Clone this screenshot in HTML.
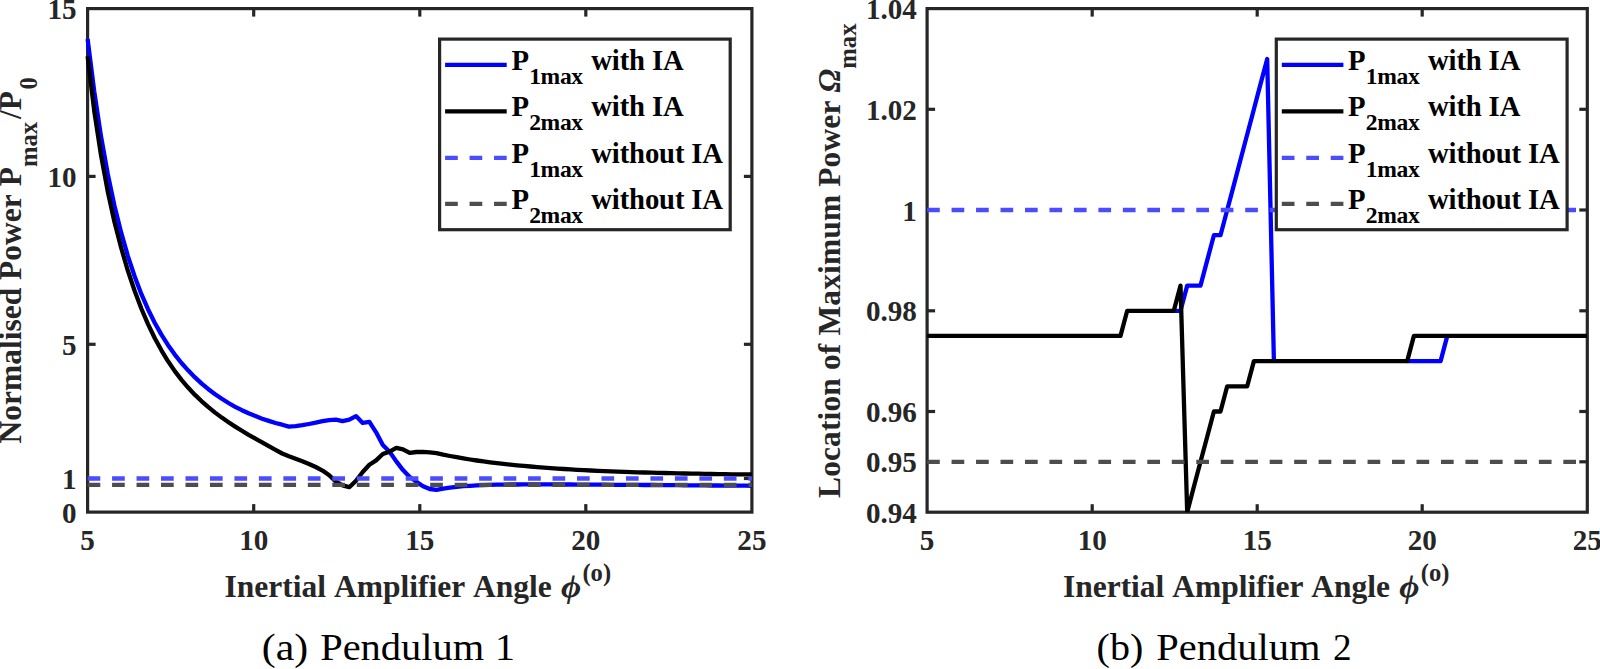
<!DOCTYPE html>
<html lang="en"><head><meta charset="utf-8"><title>Pendulum power plots</title>
<style>html,body{margin:0;padding:0;background:#fff}svg{display:block}text{font-kerning:none;white-space:pre}</style></head>
<body>
<svg width="1600" height="669" viewBox="0 0 1600 669">
<rect width="1600" height="669" fill="#fff"/>
<defs>
<clipPath id="ca"><rect x="84.6" y="8.6" width="667.3" height="503.5"/></clipPath>
<clipPath id="cb"><rect x="927.1" y="8.6" width="660.2" height="503.6"/></clipPath>
</defs>
<g stroke="#262626" stroke-width="3.2" fill="none">
<rect x="87.6" y="8.6" width="664.3" height="503.5"/>
<line x1="253.7" x2="253.7" y1="512.1" y2="504.1"/><line x1="253.7" x2="253.7" y1="8.6" y2="16.6"/>
<line x1="419.8" x2="419.8" y1="512.1" y2="504.1"/><line x1="419.8" x2="419.8" y1="8.6" y2="16.6"/>
<line x1="585.8" x2="585.8" y1="512.1" y2="504.1"/><line x1="585.8" x2="585.8" y1="8.6" y2="16.6"/>
<line x1="87.6" x2="95.6" y1="478.5" y2="478.5"/><line x1="751.9" x2="743.9" y1="478.5" y2="478.5"/>
<line x1="87.6" x2="95.6" y1="344.3" y2="344.3"/><line x1="751.9" x2="743.9" y1="344.3" y2="344.3"/>
<line x1="87.6" x2="95.6" y1="176.4" y2="176.4"/><line x1="751.9" x2="743.9" y1="176.4" y2="176.4"/>
</g>
<g font-family="'Liberation Serif', serif" font-weight="bold" font-size="29.1" fill="#262626">
<text x="87.6" y="549.9" text-anchor="middle">5</text>
<text x="253.7" y="549.9" text-anchor="middle">10</text>
<text x="419.8" y="549.9" text-anchor="middle">15</text>
<text x="585.8" y="549.9" text-anchor="middle">20</text>
<text x="751.9" y="549.9" text-anchor="middle">25</text>
<text x="76.6" y="522.7" text-anchor="end">0</text>
<text x="76.6" y="489.1" text-anchor="end">1</text>
<text x="76.6" y="354.9" text-anchor="end">5</text>
<text x="76.6" y="187.0" text-anchor="end">10</text>
<text x="76.6" y="19.2" text-anchor="end">15</text>
</g>
<g stroke="#262626" stroke-width="3.2" fill="none">
<rect x="927.1" y="8.6" width="660.2" height="503.6"/>
<line x1="1092.2" x2="1092.2" y1="512.2" y2="504.20000000000005"/><line x1="1092.2" x2="1092.2" y1="8.6" y2="16.6"/>
<line x1="1257.2" x2="1257.2" y1="512.2" y2="504.20000000000005"/><line x1="1257.2" x2="1257.2" y1="8.6" y2="16.6"/>
<line x1="1422.2" x2="1422.2" y1="512.2" y2="504.20000000000005"/><line x1="1422.2" x2="1422.2" y1="8.6" y2="16.6"/>
<line x1="927.1" x2="935.1" y1="461.8" y2="461.8"/><line x1="1587.3" x2="1579.3" y1="461.8" y2="461.8"/>
<line x1="927.1" x2="935.1" y1="411.5" y2="411.5"/><line x1="1587.3" x2="1579.3" y1="411.5" y2="411.5"/>
<line x1="927.1" x2="935.1" y1="310.8" y2="310.8"/><line x1="1587.3" x2="1579.3" y1="310.8" y2="310.8"/>
<line x1="927.1" x2="935.1" y1="210.0" y2="210.0"/><line x1="1587.3" x2="1579.3" y1="210.0" y2="210.0"/>
<line x1="927.1" x2="935.1" y1="109.3" y2="109.3"/><line x1="1587.3" x2="1579.3" y1="109.3" y2="109.3"/>
</g>
<g font-family="'Liberation Serif', serif" font-weight="bold" font-size="29.1" fill="#262626">
<text x="927.1" y="549.9" text-anchor="middle">5</text>
<text x="1092.2" y="549.9" text-anchor="middle">10</text>
<text x="1257.2" y="549.9" text-anchor="middle">15</text>
<text x="1422.2" y="549.9" text-anchor="middle">20</text>
<text x="1587.3" y="549.9" text-anchor="middle">25</text>
<text x="916.9" y="522.8" text-anchor="end">0.94</text>
<text x="916.9" y="472.4" text-anchor="end">0.95</text>
<text x="916.9" y="422.1" text-anchor="end">0.96</text>
<text x="916.9" y="321.4" text-anchor="end">0.98</text>
<text x="916.9" y="220.6" text-anchor="end">1</text>
<text x="916.9" y="119.9" text-anchor="end">1.02</text>
<text x="916.9" y="19.2" text-anchor="end">1.04</text>
</g>
<g clip-path="url(#ca)" fill="none" stroke-linejoin="round">
<polyline points="87.6,39.0 94.3,91.7 101.0,136.2 107.7,173.7 114.4,205.5 121.2,232.7 127.9,256.1 134.6,276.3 141.3,293.9 148.0,309.2 154.7,322.7 161.4,334.6 168.1,345.2 174.8,354.6 181.5,363.0 188.3,370.6 195.0,377.4 201.7,383.6 208.4,389.2 215.1,394.2 221.8,398.8 228.5,403.0 235.2,406.8 241.9,410.2 248.6,413.3 255.4,416.1 262.1,418.7 268.8,420.9 275.5,423.0 282.2,424.7 288.9,426.6 295.6,426.2 302.3,425.2 309.0,424.0 315.7,422.7 322.5,421.2 329.2,420.1 335.9,419.6 342.6,421.1 349.3,419.6 356.0,416.1 362.7,422.9 369.4,421.9 376.1,432.3 382.8,444.9 389.6,451.7 396.3,461.4 403.0,470.1 409.7,476.9 416.4,481.9 423.1,486.2 429.8,489.0 436.5,489.8 443.2,488.6 449.9,487.6 456.7,486.9 463.4,486.2 470.1,485.8 476.8,485.4 483.5,485.1 490.2,484.9 496.9,484.7 503.6,484.6 510.3,484.5 517.0,484.5 523.8,484.4 530.5,484.4 537.2,484.4 543.9,484.4 550.6,484.4 557.3,484.5 564.0,484.5 570.7,484.5 577.4,484.6 584.1,484.6 590.9,484.6 597.6,484.7 604.3,484.7 611.0,484.8 617.7,484.8 624.4,484.9 631.1,484.9 637.8,484.9 644.5,485.0 651.2,485.0 658.0,485.1 664.7,485.1 671.4,485.2 678.1,485.2 684.8,485.3 691.5,485.3 698.2,485.4 704.9,485.4 711.6,485.5 718.3,485.5 725.1,485.6 731.8,485.6 738.5,485.7 745.2,485.7 751.9,485.8" stroke="#0000ff" stroke-width="4.3"/>
<polyline points="87.6,56.3 94.3,111.3 101.0,155.1 107.7,191.2 114.4,221.7 121.2,248.0 127.9,270.8 134.6,290.8 141.3,308.5 148.0,324.1 154.7,338.0 161.4,350.3 168.1,361.3 174.8,371.1 181.5,379.9 188.3,387.8 195.0,394.9 201.7,401.3 208.4,407.2 215.1,412.6 221.8,417.6 228.5,422.2 235.2,426.6 241.9,430.8 248.6,434.8 255.4,438.6 262.1,442.4 268.8,446.2 275.5,449.8 282.2,453.5 288.9,456.2 295.6,458.7 302.3,461.3 309.0,464.0 315.7,467.0 322.5,470.6 329.2,475.3 335.9,481.6 342.6,485.4 349.3,487.2 356.0,480.8 362.7,472.0 369.4,464.7 376.1,460.4 382.8,454.0 389.6,451.6 396.3,447.9 403.0,449.3 409.7,452.9 416.4,452.0 423.1,451.8 429.8,452.3 436.5,453.2 443.2,454.7 449.9,456.0 456.7,457.2 463.4,458.4 470.1,459.5 476.8,460.5 483.5,461.4 490.2,462.3 496.9,463.1 503.6,463.9 510.3,464.6 517.0,465.3 523.8,465.9 530.5,466.5 537.2,467.1 543.9,467.6 550.6,468.1 557.3,468.6 564.0,469.0 570.7,469.4 577.4,469.8 584.1,470.1 590.9,470.5 597.6,470.8 604.3,471.1 611.0,471.3 617.7,471.6 624.4,471.9 631.1,472.1 637.8,472.3 644.5,472.5 651.2,472.7 658.0,472.9 664.7,473.0 671.4,473.2 678.1,473.3 684.8,473.5 691.5,473.6 698.2,473.7 704.9,473.9 711.6,474.0 718.3,474.1 725.1,474.2 731.8,474.3 738.5,474.4 745.2,474.4 751.9,474.5" stroke="#000" stroke-width="4.3"/>
<line x1="87.6" x2="751.9" y1="478.5" y2="478.5" stroke="#4c4cff" stroke-width="4.3" stroke-dasharray="12.7 11.77"/>
<line x1="87.6" x2="751.9" y1="484.9" y2="484.9" stroke="#4d4d4d" stroke-width="4.3" stroke-dasharray="12.7 11.77"/>
</g>
<g clip-path="url(#cb)" fill="none" stroke-linejoin="round">
<polyline points="1173.8,310.8 1180.5,310.8 1187.2,285.6 1193.8,285.6 1200.5,285.6 1207.2,260.4 1213.9,235.2 1220.5,235.2 1227.2,210.0 1233.9,184.9 1240.5,159.7 1247.2,134.5 1253.9,109.3 1260.5,84.1 1267.2,59.0 1273.9,361.1" stroke="#0000ff" stroke-width="4.3"/>
<polyline points="1407.2,361.1 1413.9,361.1 1420.6,361.1 1427.3,361.1 1433.9,361.1 1440.6,361.1 1447.3,335.9" stroke="#0000ff" stroke-width="4.3"/>
<polyline points="927.1,335.9 933.8,335.9 940.4,335.9 947.1,335.9 953.8,335.9 960.4,335.9 967.1,335.9 973.8,335.9 980.4,335.9 987.1,335.9 993.8,335.9 1000.5,335.9 1007.1,335.9 1013.8,335.9 1020.5,335.9 1027.1,335.9 1033.8,335.9 1040.5,335.9 1047.1,335.9 1053.8,335.9 1060.5,335.9 1067.1,335.9 1073.8,335.9 1080.5,335.9 1087.1,335.9 1093.8,335.9 1100.5,335.9 1107.2,335.9 1113.8,335.9 1120.5,335.9 1127.2,310.8 1133.8,310.8 1140.5,310.8 1147.2,310.8 1153.8,310.8 1160.5,310.8 1167.2,310.8 1173.8,310.8 1180.5,285.6 1187.2,512.2 1193.8,487.0 1200.5,461.8 1207.2,436.7 1213.9,411.5 1220.5,411.5 1227.2,386.3 1233.9,386.3 1240.5,386.3 1247.2,386.3 1253.9,361.1 1260.5,361.1 1267.2,361.1 1273.9,361.1 1280.5,361.1 1287.2,361.1 1293.9,361.1 1300.5,361.1 1307.2,361.1 1313.9,361.1 1320.6,361.1 1327.2,361.1 1333.9,361.1 1340.6,361.1 1347.2,361.1 1353.9,361.1 1360.6,361.1 1367.2,361.1 1373.9,361.1 1380.6,361.1 1387.2,361.1 1393.9,361.1 1400.6,361.1 1407.2,361.1 1413.9,335.9 1420.6,335.9 1427.3,335.9 1433.9,335.9 1440.6,335.9 1447.3,335.9 1453.9,335.9 1460.6,335.9 1467.3,335.9 1473.9,335.9 1480.6,335.9 1487.3,335.9 1493.9,335.9 1500.6,335.9 1507.3,335.9 1513.9,335.9 1520.6,335.9 1527.3,335.9 1534.0,335.9 1540.6,335.9 1547.3,335.9 1554.0,335.9 1560.6,335.9 1567.3,335.9 1574.0,335.9 1580.6,335.9 1587.3,335.9" stroke="#000" stroke-width="4.3"/>
<line x1="927.1" x2="1587.3" y1="210.0" y2="210.0" stroke="#4c4cff" stroke-width="4.3" stroke-dasharray="12.7 11.77"/>
<line x1="927.1" x2="1587.3" y1="461.8" y2="461.8" stroke="#4d4d4d" stroke-width="4.3" stroke-dasharray="12.7 11.77"/>
</g>
<text x="224.6" y="596.7" font-family="'Liberation Serif', serif" font-weight="bold" font-size="31.5" fill="#262626">Inertial Amplifier Angle</text>
<text x="560.9" y="596.7" font-family="'Liberation Serif', serif" font-weight="bold" font-style="italic" font-size="31.5" fill="#262626" textLength="20.2" lengthAdjust="spacingAndGlyphs">ϕ</text>
<text x="582.4" y="581.4" font-family="'Liberation Serif', serif" font-weight="bold" font-size="24.6" fill="#262626">(o)</text>
<text x="1062.9" y="596.7" font-family="'Liberation Serif', serif" font-weight="bold" font-size="31.5" fill="#262626">Inertial Amplifier Angle</text>
<text x="1399.2" y="596.7" font-family="'Liberation Serif', serif" font-weight="bold" font-style="italic" font-size="31.5" fill="#262626" textLength="20.2" lengthAdjust="spacingAndGlyphs">ϕ</text>
<text x="1420.7" y="581.4" font-family="'Liberation Serif', serif" font-weight="bold" font-size="24.6" fill="#262626">(o)</text>
<text transform="translate(21,443.5) rotate(-90)" font-family="'Liberation Serif', serif" font-weight="bold" font-size="31.5" fill="#262626">Normalised Power P<tspan dy="16" font-size="24.6">max</tspan><tspan dx="3" dy="-16">/P</tspan><tspan dx="1.5" dy="16" font-size="24.6">0</tspan></text>
<text transform="translate(840,498) rotate(-90)" font-family="'Liberation Serif', serif" font-weight="bold" font-size="31.5" fill="#262626" letter-spacing="0.12">Location of Maximum Power <tspan font-style="italic">Ω</tspan><tspan dy="15.5" font-size="24.6">max</tspan></text>
<rect x="439.6" y="39.1" width="290.6" height="190.6" fill="#fff" stroke="#262626" stroke-width="3.2"/>
<line x1="445.1" x2="506.7" y1="64.8" y2="64.8" stroke="#0000ff" stroke-width="4.3"/>
<text x="511.4" y="69.7" font-family="'Liberation Serif', serif" font-weight="bold" font-size="28.7" fill="#000">P<tspan dx="0.2" dy="13.9" font-size="23.6" letter-spacing="-0.35">1max</tspan><tspan dx="1.5" dy="-13.9" letter-spacing="-0.15"> with IA</tspan></text>
<line x1="445.1" x2="506.7" y1="111.4" y2="111.4" stroke="#000" stroke-width="4.3"/>
<text x="511.4" y="116.3" font-family="'Liberation Serif', serif" font-weight="bold" font-size="28.7" fill="#000">P<tspan dx="0.2" dy="13.9" font-size="23.6" letter-spacing="-0.35">2max</tspan><tspan dx="1.5" dy="-13.9" letter-spacing="-0.15"> with IA</tspan></text>
<line x1="445.1" x2="506.7" y1="157.8" y2="157.8" stroke="#4c4cff" stroke-width="4.3" stroke-dasharray="12.7 11.77"/>
<text x="511.4" y="162.7" font-family="'Liberation Serif', serif" font-weight="bold" font-size="28.7" fill="#000">P<tspan dx="0.2" dy="13.9" font-size="23.6" letter-spacing="-0.35">1max</tspan><tspan dx="1.5" dy="-13.9" letter-spacing="-0.15"> without IA</tspan></text>
<line x1="445.1" x2="506.7" y1="203.9" y2="203.9" stroke="#4d4d4d" stroke-width="4.3" stroke-dasharray="12.7 11.77"/>
<text x="511.4" y="208.8" font-family="'Liberation Serif', serif" font-weight="bold" font-size="28.7" fill="#000">P<tspan dx="0.2" dy="13.9" font-size="23.6" letter-spacing="-0.35">2max</tspan><tspan dx="1.5" dy="-13.9" letter-spacing="-0.15"> without IA</tspan></text>
<rect x="1276.3" y="39.1" width="290.8" height="190.6" fill="#fff" stroke="#262626" stroke-width="3.2"/>
<line x1="1281.8" x2="1343.4" y1="64.8" y2="64.8" stroke="#0000ff" stroke-width="4.3"/>
<text x="1348.1" y="69.7" font-family="'Liberation Serif', serif" font-weight="bold" font-size="28.7" fill="#000">P<tspan dx="0.2" dy="13.9" font-size="23.6" letter-spacing="-0.35">1max</tspan><tspan dx="1.5" dy="-13.9" letter-spacing="-0.15"> with IA</tspan></text>
<line x1="1281.8" x2="1343.4" y1="111.4" y2="111.4" stroke="#000" stroke-width="4.3"/>
<text x="1348.1" y="116.3" font-family="'Liberation Serif', serif" font-weight="bold" font-size="28.7" fill="#000">P<tspan dx="0.2" dy="13.9" font-size="23.6" letter-spacing="-0.35">2max</tspan><tspan dx="1.5" dy="-13.9" letter-spacing="-0.15"> with IA</tspan></text>
<line x1="1281.8" x2="1343.4" y1="157.8" y2="157.8" stroke="#4c4cff" stroke-width="4.3" stroke-dasharray="12.7 11.77"/>
<text x="1348.1" y="162.7" font-family="'Liberation Serif', serif" font-weight="bold" font-size="28.7" fill="#000">P<tspan dx="0.2" dy="13.9" font-size="23.6" letter-spacing="-0.35">1max</tspan><tspan dx="1.5" dy="-13.9" letter-spacing="-0.15"> without IA</tspan></text>
<line x1="1281.8" x2="1343.4" y1="203.9" y2="203.9" stroke="#4d4d4d" stroke-width="4.3" stroke-dasharray="12.7 11.77"/>
<text x="1348.1" y="208.8" font-family="'Liberation Serif', serif" font-weight="bold" font-size="28.7" fill="#000">P<tspan dx="0.2" dy="13.9" font-size="23.6" letter-spacing="-0.35">2max</tspan><tspan dx="1.5" dy="-13.9" letter-spacing="-0.15"> without IA</tspan></text>
<text x="261.8" y="659.5" font-family="'Liberation Serif', serif" font-size="38" fill="#000" textLength="46.4" lengthAdjust="spacingAndGlyphs">(a)</text>
<text x="320.2" y="659.5" font-family="'Liberation Serif', serif" font-size="38" fill="#000" textLength="164.0" lengthAdjust="spacingAndGlyphs">Pendulum</text>
<text x="495.0" y="659.5" font-family="'Liberation Serif', serif" font-size="38" fill="#000" textLength="19.9" lengthAdjust="spacingAndGlyphs">1</text>
<text x="1096.6" y="659.5" font-family="'Liberation Serif', serif" font-size="38" fill="#000" textLength="46.7" lengthAdjust="spacingAndGlyphs">(b)</text>
<text x="1156.3" y="659.5" font-family="'Liberation Serif', serif" font-size="38" fill="#000" textLength="164.1" lengthAdjust="spacingAndGlyphs">Pendulum</text>
<text x="1333.0" y="659.5" font-family="'Liberation Serif', serif" font-size="38" fill="#000" textLength="18.6" lengthAdjust="spacingAndGlyphs">2</text>
</svg>
</body></html>
